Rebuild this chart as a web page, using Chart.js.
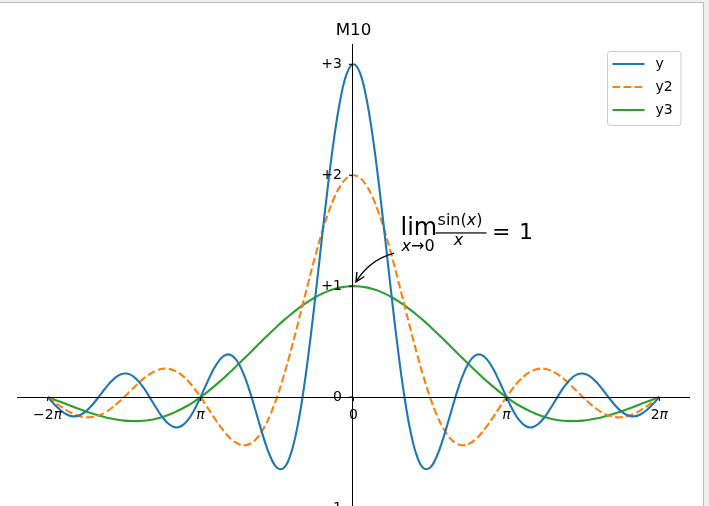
<!DOCTYPE html>
<html>
<head>
<meta charset="utf-8">
<script src="https://cdn.jsdelivr.net/npm/chart.js@4"></script>
<style>
html, body { margin: 0; padding: 0; }
body { width: 709px; height: 506px; overflow: hidden; background: #eeeeee; position: relative; }
.frame { position: absolute; left: 0; top: 2px; width: 703px; height: 520px; background: #fff; border-top: 1px solid #bcbcbc; border-right: 1px solid #bcbcbc; }
#chart { position: absolute; left: 0; top: 0; }
</style>
</head>
<body>
<div class="frame"></div>
<canvas id="chart" width="709" height="520"></canvas>
<script>
// values, x from -2pi to 2pi
const xs = [-6.283, -6.152, -6.021, -5.890, -5.760, -5.629, -5.498, -5.367, -5.236, -5.105, -4.974, -4.843,
    -4.712, -4.581, -4.451, -4.320, -4.189, -4.058, -3.927, -3.796, -3.665, -3.534, -3.403, -3.272,
    -3.142, -3.011, -2.880, -2.749, -2.618, -2.487, -2.356, -2.225, -2.094, -1.963, -1.833, -1.702,
    -1.571, -1.440, -1.309, -1.178, -1.047, -0.916, -0.785, -0.654, -0.524, -0.393, -0.262, -0.131,
    0,
    0.131, 0.262, 0.393, 0.524, 0.654, 0.785, 0.916, 1.047, 1.178, 1.309, 1.440, 1.571,
    1.702, 1.833, 1.963, 2.094, 2.225, 2.356, 2.487, 2.618, 2.749, 2.880, 3.011, 3.142,
    3.272, 3.403, 3.534, 3.665, 3.796, 3.927, 4.058, 4.189, 4.320, 4.451, 4.581, 4.712,
    4.843, 4.974, 5.105, 5.236, 5.367, 5.498, 5.629, 5.760, 5.890, 6.021, 6.152, 6.283];
const y = [0, -0.062, -0.117, -0.157, -0.174, -0.164, -0.129, -0.071, 0, 0.075, 0.142, 0.191,
    0.212, 0.202, 0.159, 0.089, 0, -0.094, -0.180, -0.243, -0.273, -0.261, -0.208, -0.117,
    0, 0.127, 0.246, 0.336, 0.382, 0.371, 0.300, 0.172, 0, -0.195, -0.386, -0.543,
    -0.637, -0.642, -0.540, -0.325, 0, 0.418, 0.900, 1.412, 1.910, 2.353, 2.701, 2.924,
    3,
    2.924, 2.701, 2.353, 1.910, 1.412, 0.900, 0.418, 0, -0.325, -0.540, -0.642, -0.637,
    -0.543, -0.386, -0.195, 0, 0.172, 0.300, 0.371, 0.382, 0.336, 0.246, 0.127, 0,
    -0.117, -0.208, -0.261, -0.273, -0.243, -0.180, -0.094, 0, 0.089, 0.159, 0.202, 0.212,
    0.191, 0.142, 0.075, 0, -0.071, -0.129, -0.164, -0.174, -0.157, -0.117, -0.062, 0];
const y2 = [0, -0.042, -0.083, -0.120, -0.150, -0.172, -0.182, -0.180, -0.165, -0.139, -0.101, -0.053,
    0, 0.056, 0.112, 0.164, 0.207, 0.238, 0.255, 0.254, 0.236, 0.200, 0.147, 0.079,
    0, -0.086, -0.174, -0.257, -0.331, -0.388, -0.424, -0.434, -0.413, -0.360, -0.273, -0.152,
    0, 0.180, 0.382, 0.600, 0.827, 1.054, 1.273, 1.476, 1.654, 1.801, 1.910, 1.977,
    2,
    1.977, 1.910, 1.801, 1.654, 1.476, 1.273, 1.054, 0.827, 0.600, 0.382, 0.180, 0,
    -0.152, -0.273, -0.360, -0.413, -0.434, -0.424, -0.388, -0.331, -0.257, -0.174, -0.086, 0,
    0.079, 0.147, 0.200, 0.236, 0.254, 0.255, 0.238, 0.207, 0.164, 0.112, 0.056, 0,
    -0.053, -0.101, -0.139, -0.165, -0.180, -0.182, -0.172, -0.150, -0.120, -0.083, -0.042, 0];
const y3 = [0, -0.021, -0.043, -0.065, -0.087, -0.108, -0.129, -0.148, -0.165, -0.181, -0.194, -0.205,
    -0.212, -0.216, -0.217, -0.214, -0.207, -0.196, -0.180, -0.160, -0.136, -0.108, -0.076, -0.040,
    0, 0.043, 0.090, 0.139, 0.191, 0.245, 0.300, 0.357, 0.413, 0.471, 0.527, 0.583,
    0.637, 0.689, 0.738, 0.784, 0.827, 0.866, 0.900, 0.930, 0.955, 0.974, 0.989, 0.997,
    1,
    0.997, 0.989, 0.974, 0.955, 0.930, 0.900, 0.866, 0.827, 0.784, 0.738, 0.689, 0.637,
    0.583, 0.527, 0.471, 0.413, 0.357, 0.300, 0.245, 0.191, 0.139, 0.090, 0.043, 0,
    -0.040, -0.076, -0.108, -0.136, -0.160, -0.180, -0.196, -0.207, -0.214, -0.217, -0.216, -0.212,
    -0.205, -0.194, -0.181, -0.165, -0.148, -0.129, -0.108, -0.087, -0.065, -0.043, -0.021, 0];

const seriesNames = ['y', 'y2', 'y3'];
const xTicks = [-6.283, -3.142, 0, 3.142, 6.283];
const xTickLabels = ['−2π', 'π', '0', 'π', '2π'];
const yTicks = [-1, 0, 1, 2, 3];
const yTickLabels = ['−1', '0', '+1', '+2', '+3'];
const chartTitle = 'M10';

const FONT = '"DejaVu Sans", sans-serif';

function pts(vals) {
    return xs.map((x, i) => ({ x: x, y: vals[i] }));
}

// text with italic pi / x, like mathtext
function drawMath(ctx, s, x, yPos, size, align) {
    const parts = [];
    for (const ch of s) {
        const it = ch === 'π' || ch === 'x';
        ctx.font = (it ? 'italic ' : '') + size + 'px ' + FONT;
        parts.push({ ch: ch, font: ctx.font, w: ctx.measureText(ch).width });
    }
    const total = parts.reduce((a, p) => a + p.w, 0);
    let cx = align === 'center' ? x - total / 2 : align === 'right' ? x - total : x;
    ctx.textAlign = 'left';
    parts.forEach(p => {
        ctx.font = p.font;
        ctx.fillText(p.ch, cx, yPos);
        cx += p.w;
    });
}

const spinesPlugin = {
    id: 'spines',
    afterDatasetsDraw(chart) {
        const ctx = chart.ctx;
        const xs_ = chart.scales.x, ys_ = chart.scales.y;
        const area = chart.chartArea;
        const x0 = Math.floor(xs_.getPixelForValue(0)) - 0.5;
        const y0 = Math.floor(ys_.getPixelForValue(0)) + 0.5;
        ctx.save();
        ctx.strokeStyle = '#000';
        ctx.fillStyle = '#000';
        ctx.lineWidth = 1;
        ctx.beginPath();
        ctx.moveTo(area.left, y0); ctx.lineTo(area.right, y0);
        ctx.moveTo(x0, area.top); ctx.lineTo(x0, area.bottom);
        ctx.stroke();

        // x ticks
        ctx.textBaseline = 'middle';
        xTicks.forEach((v, i) => {
            const px = xs_.getPixelForValue(v);
            ctx.beginPath();
            ctx.moveTo(px, y0); ctx.lineTo(px, y0 + 3.5);
            ctx.stroke();
            drawMath(ctx, xTickLabels[i], px, y0 + 18, 14, 'center');
        });
        // y ticks
        yTicks.forEach((v, i) => {
            const py = ys_.getPixelForValue(v);
            ctx.beginPath();
            ctx.moveTo(x0, py); ctx.lineTo(x0 - 3.5, py);
            ctx.stroke();
            ctx.font = '14px ' + FONT;
            ctx.textAlign = 'right';
            ctx.fillText(yTickLabels[i], x0 - 10.5, py);
        });

        // title
        ctx.font = '16.7px ' + FONT;
        ctx.textAlign = 'center';
        ctx.textBaseline = 'alphabetic';
        ctx.fillText(chartTitle, (area.left + area.right) / 2, area.top - 9.5);

        // annotation at (0, 1)
        const px = xs_.getPixelForValue(0), py = ys_.getPixelForValue(1);
        ctx.textAlign = 'left';
        ctx.font = '24px ' + FONT;
        ctx.fillText('lim', px + 47, py - 51.5);
        drawMath(ctx, 'x→0', px + 48, py - 35, 16, 'left');
        drawMath(ctx, 'sin(x)', px + 106.5, py - 61.5, 16, 'center');
        ctx.fillRect(px + 82, py - 53.8, 51, 1.2);
        drawMath(ctx, 'x', px + 105, py - 41, 16, 'center');
        ctx.font = '22px ' + FONT;
        ctx.textAlign = 'left';
        ctx.fillText('=', px + 138.5, py - 47);
        ctx.fillText('1', px + 165.5, py - 47);

        // curved arrow, arc3 rad .2
        const sx = px + 40.5, sy = py - 33, ex = px + 2.5, ey = py - 4.3;
        const cx = px + 15.8, cy = py - 26.2;
        ctx.lineWidth = 1.4;
        ctx.beginPath();
        ctx.moveTo(sx, sy);
        ctx.quadraticCurveTo(cx, cy, ex, ey);
        ctx.stroke();
        const ang = Math.atan2(ey - cy, ex - cx);
        const hl = 8.9, hw = 4.4;
        ctx.beginPath();
        ctx.moveTo(ex - hl * Math.cos(ang) + hw * Math.sin(ang), ey - hl * Math.sin(ang) - hw * Math.cos(ang));
        ctx.lineTo(ex, ey);
        ctx.lineTo(ex - hl * Math.cos(ang) - hw * Math.sin(ang), ey - hl * Math.sin(ang) + hw * Math.cos(ang));
        ctx.stroke();
        ctx.restore();
    },
    afterDraw(chart) {
        // legend box, upper right
        const ctx = chart.ctx;
        const area = chart.chartArea;
        const bx = area.right - 82.5, by = area.top + 7.5, bw = 73.5, bh = 74;
        ctx.save();
        ctx.fillStyle = 'rgba(255,255,255,0.8)';
        ctx.strokeStyle = '#cccccc';
        ctx.lineWidth = 1;
        ctx.beginPath();
        ctx.roundRect(bx, by, bw, bh, 3);
        ctx.fill();
        ctx.stroke();
        chart.data.datasets.forEach((ds, i) => {
            const ry = by + 12.5 + i * 23;
            ctx.strokeStyle = ds.borderColor;
            ctx.lineWidth = ds.borderWidth;
            ctx.setLineDash(ds.borderDash || []);
            ctx.beginPath();
            ctx.moveTo(bx + 5, ry); ctx.lineTo(bx + 37, ry);
            ctx.stroke();
            ctx.setLineDash([]);
            ctx.fillStyle = '#000';
            ctx.font = '14px ' + FONT;
            ctx.textAlign = 'left';
            ctx.textBaseline = 'middle';
            ctx.fillText(ds.label, bx + 48, ry);
        });
        ctx.restore();
    }
};

new Chart(document.getElementById('chart'), {
    type: 'line',
    data: {
        datasets: [{
            label: seriesNames[0],
            data: pts(y),
            borderColor: '#1f77b4',
            borderWidth: 2.1
        }, {
            label: seriesNames[1],
            data: pts(y2),
            borderColor: '#ff7f0e',
            borderWidth: 2.1,
            borderDash: [7.7, 3.3]
        }, {
            label: seriesNames[2],
            data: pts(y3),
            borderColor: '#2ca02c',
            borderWidth: 2.1
        }]
    },
    options: {
        responsive: false,
        animation: false,
        layout: {
            padding: { left: 17, right: 19, top: 44, bottom: 12 }
        },
        elements: {
            point: { radius: 0 },
            line: { tension: 0.4, fill: false }
        },
        plugins: {
            legend: { display: false },
            title: { display: false },
            tooltip: { enabled: false }
        },
        scales: {
            x: { type: 'linear', min: -6.912, max: 6.912, display: false },
            y: { type: 'linear', min: -1, max: 3.183, display: false }
        }
    },
    plugins: [spinesPlugin]
});
</script>
</body>
</html>
